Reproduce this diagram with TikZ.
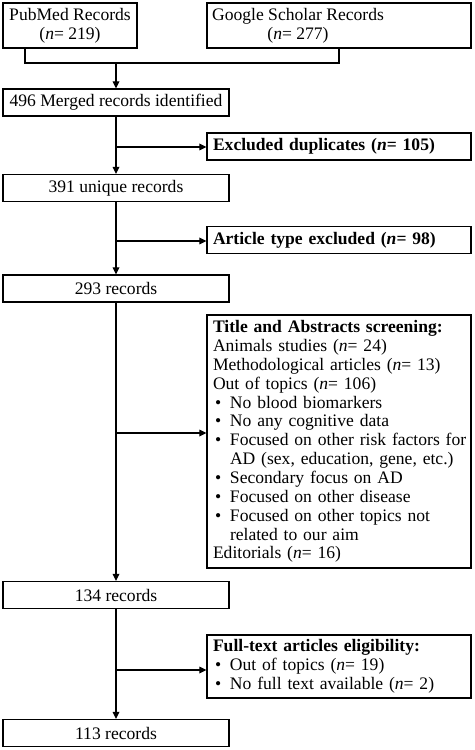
\documentclass[tikz,border=0pt]{standalone}
\usepackage{fontspec}
\setmainfont{Liberation Serif}
\usepackage{tikz}
\usetikzlibrary{arrows.meta, positioning, calc}

\newcommand{\nn}{\textit{n}}
\newcommand{\bul}{\makebox[0.51cm][l]{\hspace{0.06cm}\textbullet}}
\newcommand{\ind}{\hspace*{0.51cm}}

\begin{document}
\begin{tikzpicture}[
    box/.style={draw, line width=1.1pt, minimum height=0.81cm, inner sep=0pt, font=\fontsize{15}{16.1}\selectfont},
    mainbox/.style={box, minimum width=6.78cm, align=center},
    sidebox/.style={box, text width=7.56cm, inner xsep=0.18cm, align=left},
    arr/.style={-{Triangle[length=2.1mm, width=2mm]}, line width=1pt},
    ln/.style={line width=1pt},
]
\useasboundingbox (0,0) rectangle (14.22,-22.5);

% Sources
\node[box, minimum width=4.02cm, minimum height=1.35cm, align=center] (pub) at (2.10, -0.765) {PubMed Records\\(\nn= 219)};
\node[box, minimum width=7.92cm, minimum height=1.35cm] (google) at (10.17, -0.765) {};
\node[align=center, font=\fontsize{15}{16.1}\selectfont, inner sep=0pt] (googletxt) at (8.94, -0.78) {Google Scholar Records\\(\nn= 277)};

% Main column
\node[mainbox] (merged) at (3.48, -3.075) {496 Merged records identified};
\node[mainbox] (uniq) at (3.48, -5.64) {391 unique records};
\node[mainbox] (r293) at (3.48, -8.655) {293 records};
\node[mainbox] (r134) at (3.48, -17.85) {134 records};
\node[mainbox] (r113) at (3.48, -21.99) {113 records};

% Exclusions
\node[sidebox, font=\fontsize{15}{16.1}\selectfont\bfseries] (dup) at (10.17, -4.395) {Excluded duplicates (\nn= 105)};
\node[sidebox, font=\fontsize{15}{16.1}\selectfont\bfseries] (atype) at (10.17, -7.2) {Article type excluded (\nn= 98)};
\node[sidebox, minimum height=7.59cm] (tas) at (10.17, -13.245) {\textbf{Title and Abstracts screening:}\\
Animals studies (\nn= 24)\\
Methodological articles (\nn= 13)\\
Out of topics (\nn= 106)\\
\bul No blood biomarkers\\
\bul No any cognitive data\\
\mbox{\bul Focused on other risk factors for}\\
\ind AD (sex, education, gene, etc.)\\
\bul Secondary focus on AD\\
\bul Focused on other disease\\
\bul Focused on other topics not\\
\ind related to our aim\\
Editorials (\nn= 16)};
\node[sidebox, minimum height=1.89cm] (ft) at (10.17, -19.995) {\textbf{Full-text articles eligibility:}\\
\bul Out of topics (\nn= 19)\\
\bul No full text available (\nn= 2)};

% Branch points
\coordinate (j0) at (3.48, -1.89);
\coordinate (b1) at (3.48, -4.41);
\coordinate (b2) at (3.48, -7.23);
\coordinate (b3) at (3.48, -12.99);
\coordinate (b4) at (3.48, -20.1);

% Connectors
\draw[ln] ([xshift=-1.35cm]pub.south) |- (google.south |- j0) -- (google.south);
\draw[arr] (j0) -- (merged);
\draw[arr] (merged) -- (uniq);
\draw[arr] (uniq) -- (r293);
\draw[arr] (r293) -- (r134);
\draw[arr] (r134) -- (r113);
\draw[arr] (b1) -- (b1 -| dup.west);
\draw[arr] (b2) -- (b2 -| atype.west);
\draw[arr] (b3) -- (b3 -| tas.west);
\draw[arr] (b4) -- (b4 -| ft.west);

\end{tikzpicture}
\end{document}
